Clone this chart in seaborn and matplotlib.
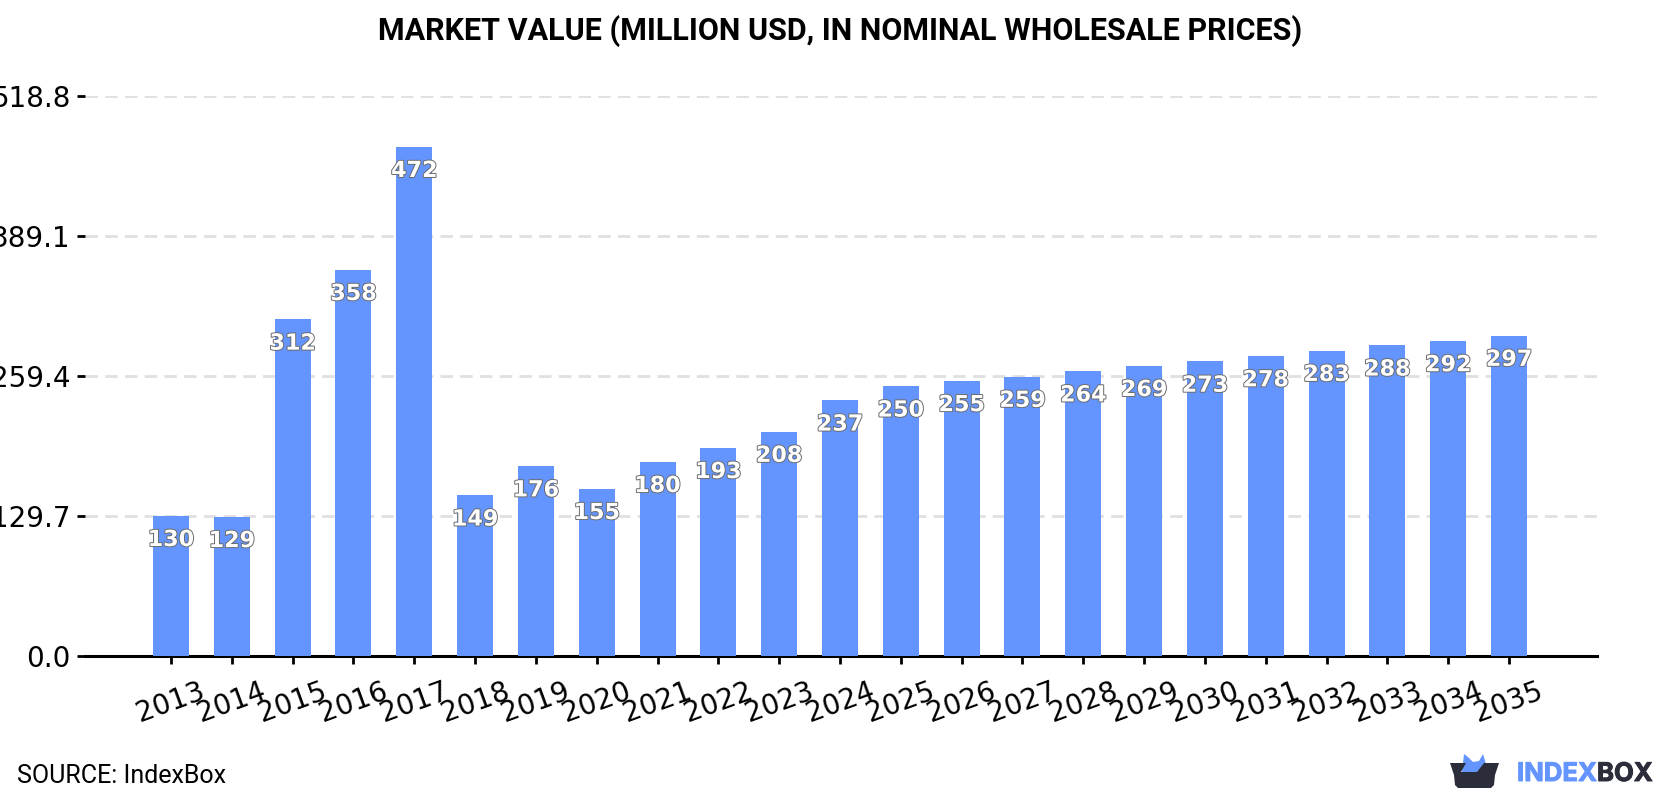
import matplotlib
matplotlib.use("Agg")
import matplotlib.pyplot as plt
import matplotlib.patheffects as pe
from matplotlib.patches import Polygon
import pandas as pd
import seaborn as sns

years = [str(y) for y in range(2013, 2036)]
values = [130, 129, 312, 358, 472, 149, 176, 155, 180, 193, 208, 237,
          250, 255, 259, 264, 269, 273, 278, 283, 288, 292, 297]
y_ticks = [0.0, 129.7, 259.4, 389.1, 518.8]

BLUE = "#6495ff"
DARK = "#2b2d3a"
W, H = 1680, 800

sns.set_theme(style="white")
plt.rcParams["font.family"] = ["DejaVu Sans"]

fig = plt.figure(figsize=(W / 100, H / 100), dpi=100, facecolor="white")
ax = fig.add_axes([85 / W, 1 - 656 / H, (1597 - 85) / W, (656 - 96.2) / H])

df = pd.DataFrame({"year": years, "value": values})
sns.barplot(data=df, x="year", y="value", color=BLUE, saturation=1, width=0.592,
            linewidth=0, edgecolor="none", ax=ax, zorder=3)

ax.set_xlim(-1.414, 22 + 1.447)
ax.set_ylim(0, y_ticks[-1])
ax.set_xlabel("")
ax.set_ylabel("")
ax.set_yticks(y_ticks)
ax.set_yticklabels([f"{t:.1f}" for t in y_ticks])
ax.grid(axis="y", color="#e0e0e0", linestyle=(0, (4.5, 2.6)), linewidth=2, zorder=0)
ax.set_axisbelow(True)

for side in ("left", "top", "right"):
    ax.spines[side].set_visible(False)
ax.spines["bottom"].set_color("black")
ax.spines["bottom"].set_linewidth(2.2)
ax.tick_params(axis="y", length=6, width=2, color="black", pad=4.2, labelsize=20, left=True, labelcolor="black")
ax.tick_params(axis="x", length=6, width=2, color="black", pad=9, labelsize=20, bottom=True, labelcolor="black")
for lab in ax.get_xticklabels():
    lab.set_rotation(20)

# value labels inside the top of each bar
outline = [pe.withStroke(linewidth=1.4, foreground="#6b6b6b")]
for i, v in enumerate(values):
    ax.annotate(str(v), (i, v), xytext=(0, -17.5), textcoords="offset points",
                ha="center", va="center", fontsize=16, fontweight="bold",
                color="white", path_effects=outline, zorder=5)

fig.text(840 / W, 1 - 31 / H, "MARKET VALUE (MILLION USD, IN NOMINAL WHOLESALE PRICES)",
         ha="center", va="center", fontsize=22, fontweight="bold", color="black",
         family="Roboto")
fig.text(17 / W, 1 - 776 / H, "SOURCE: IndexBox", ha="left", va="center",
         fontsize=18, color="black", family="Roboto")

# brand mark in the lower right corner
def to_fig(pts):
    return [(x / W, 1 - y / H) for x, y in pts]

fig.add_artist(Polygon(to_fig([(1462, 772), (1464, 754), (1468, 757), (1473, 762),
                               (1479, 761), (1483, 754), (1486, 764), (1487, 772)]),
                       closed=True, facecolor=BLUE, edgecolor="none", transform=fig.transFigure))
fig.add_artist(Polygon(to_fig([(1450, 763), (1466, 763), (1461, 772), (1477, 772),
                               (1484, 763), (1499, 763), (1495, 775), (1494, 785),
                               (1491, 788), (1458, 788), (1455, 785), (1454, 775)]),
                       closed=True, facecolor=DARK, edgecolor="none", transform=fig.transFigure))
fig.text(1517 / W, 1 - 774.5 / H, "INDEX", ha="left", va="center", fontsize=18.5,
         fontweight="bold", color=BLUE, family="Inter",
         path_effects=[pe.withStroke(linewidth=0.7, foreground=BLUE)])
fig.text(1597 / W, 1 - 774.5 / H, "BOX", ha="left", va="center", fontsize=18.5,
         fontweight="bold", color=DARK, family="Inter",
         path_effects=[pe.withStroke(linewidth=0.7, foreground=DARK)])

fig.savefig("out.png", dpi=100, facecolor="white")
